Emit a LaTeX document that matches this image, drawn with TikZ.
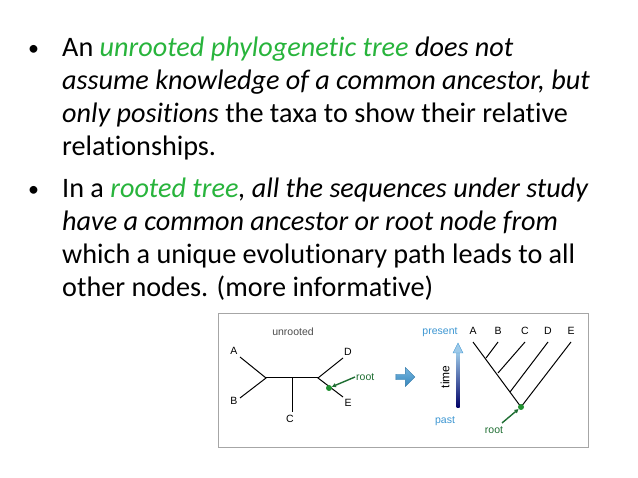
\documentclass[tikz,border=0pt]{standalone}
\usepackage{fontspec}
\setmainfont[Ligatures=NoCommon]{Carlito}
\newfontfamily\figfont{Liberation Sans}
\usetikzlibrary{shapes.arrows,arrows.meta}
\definecolor{grn}{RGB}{40,180,60}
\definecolor{dgrn}{RGB}{30,110,50}
\definecolor{pblue}{RGB}{60,150,210}
\begin{document}
\begin{tikzpicture}[x=1pt,y=-1pt,
 txt/.style={anchor=base west,inner sep=0pt,font=\fontsize{28.2}{32}\selectfont},
 lab/.style={font=\figfont\fontsize{10.5}{12}\selectfont,inner sep=1pt},
 br/.style={line width=1pt},
 rt/.style={-{Triangle[length=4pt,width=4pt]},dgrn,line width=1.4pt}]
\useasboundingbox (0,0) rectangle (638,478);
\fill[white] (0,0) rectangle (638,478);
% text
\node[txt,font=\fontsize{22}{26}\selectfont] (b1) at (28,56) {•};
\node[txt] (l1) at (62,57) {An \textit{\textcolor{grn}{unrooted phylogenetic tree}} \textit{does not}};
\node[txt] (l2) at (62,90) {\textit{assume knowledge of a common ancestor, but}};
\node[txt] (l3) at (62,123) {\textit{only positions} the taxa to show their relative};
\node[txt] (l4) at (62,156) {relationships.};
\node[txt,font=\fontsize{22}{26}\selectfont] (b2) at (28,197) {•};
\node[txt] (l5) at (62,198) {In a \textit{\textcolor{grn}{rooted tree}, all the sequences under study}};
\node[txt] (l6) at (62,231) {\textit{have a common ancestor or root node from}};
\node[txt] (l7) at (62,264) {which a unique evolutionary path leads to all};
\node[txt] (l8) at (62,297) {other nodes. (more informative)};
% figure frame
\draw[gray!70,line width=0.8pt] (218,313) rectangle (588,447);
% unrooted
\node[lab,text=black!70] (ut) at (293,332) {unrooted};
\coordinate (ja) at (266,378); \coordinate (jc) at (292,378); \coordinate (jd) at (318,378);
\coordinate (ea) at (240,357); \coordinate (eb) at (240,398); \coordinate (ec) at (292,412);
\coordinate (ed) at (343,358); \coordinate (ee) at (343,397);
\draw[br] (ea)--(ja)--(eb); \draw[br] (ja)--(jd); \draw[br] (jc)--(ec);
\draw[br] (ed)--(jd)--(ee);
\node[circle,fill=grn!80!black,inner sep=0pt,minimum size=6pt] (r1) at (329,388) {};
\node[lab] (la) at (234,351) {A}; \node[lab] (lb) at (234,401) {B};
\node[lab] (lc) at (290,419) {C}; \node[lab] (ld) at (348,352) {D};
\node[lab] (le) at (348,403) {E};
\node[lab,text=dgrn,anchor=west] (rl1) at (355,377) {root};
\draw[rt] (rl1.west) -- (r1);
% block arrow
\node[single arrow,draw=pblue!80!black,top color=pblue!70,bottom color=pblue!90!black,minimum height=19pt,minimum width=19pt,single arrow head extend=3pt,inner sep=1pt] (ba) at (404,377) {};
% time
\node[lab,text=pblue] (pr) at (440,332) {present};
\node[lab,text=pblue] (pa) at (445,421) {past};
\shade[bottom color=blue!40!black,top color=pblue!50] (456.5,408) rectangle (459.5,352);
\fill[pblue!50,draw=pblue] (453,353) -- (458,343) -- (463,353) -- cycle;
\node[lab,rotate=90,font=\figfont\fontsize{12}{13}\selectfont] (tm) at (445,377) {time};
% rooted tree
\coordinate (root) at (521,407);
\coordinate (ta) at (473,342); \coordinate (tbb) at (498,342); \coordinate (tc) at (525,342);
\coordinate (td) at (548,342); \coordinate (te) at (571,342);
\coordinate (jb) at (486,358); \coordinate (jcc) at (498,373); \coordinate (jdd) at (510,392);
\draw[br] (ta)--(root)--(te);
\draw[br] (tbb)--(jb); \draw[br] (tc)--(jcc); \draw[br] (td)--(jdd);
\node[circle,fill=grn!80!black,inner sep=0pt,minimum size=6pt] (r2) at (root) {};
\node[lab] (ra) at (473,331) {A}; \node[lab] (rb) at (498,331) {B};
\node[lab] (rc) at (525,331) {C}; \node[lab] (rd) at (548,331) {D};
\node[lab] (re) at (571,331) {E};
\node[lab,text=dgrn] (rl2) at (494,430) {root};
\draw[rt] (502,423) -- (r2);
\end{tikzpicture}
\end{document}
